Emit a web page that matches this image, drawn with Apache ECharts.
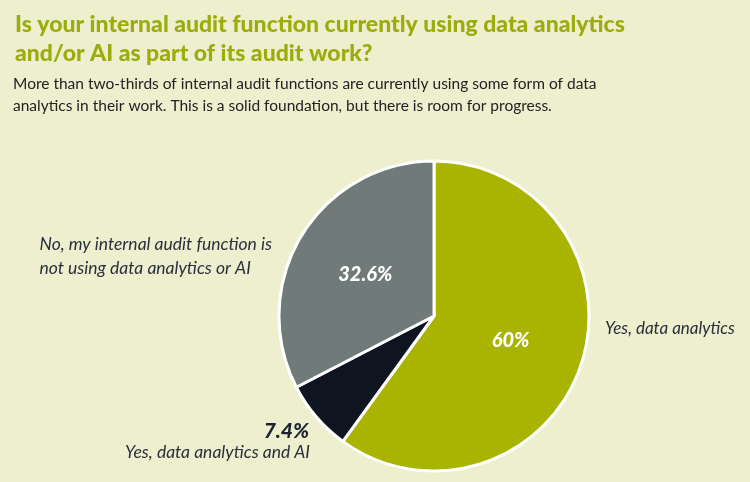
<!DOCTYPE html>
<html>
<head>
<meta charset="utf-8">
<script src="https://cdn.jsdelivr.net/npm/echarts@6/dist/echarts.min.js"></script>
<style>
    html, body { margin: 0; padding: 0; background: #edefcf; }
    #chart { width: 750px; height: 482px; }
</style>
</head>
<body>
<div id="chart"></div>
<script>
    /*----------  data  ----------*/
    var categories = ['Yes, data analytics', 'Yes, data analytics and AI', 'No, my internal audit function is\nnot using data analytics or AI'];
    var values = [60, 7.4, 32.6];
    var colors = ['#a9b400', '#0e1520', '#6f7a79'];

    var FONT = 'Lato';

    var pieData = values.map(function (v, i) {
        var item = { name: categories[i], value: v, itemStyle: { color: colors[i] } };
        if (i === 1) {
            // small slice: value printed outside, dark, nudged down with an empty first line
            item.label = {
                position: 'outside',
                formatter: '\n{c}%',
                color: '#1d2330',
                fontSize: 21,
                lineHeight: 24,
                fontWeight: 900
            };
            item.labelLine = { show: false, length: 3, length2: 0 };
        }
        return item;
    });

    var chart = echarts.init(document.getElementById('chart'));

    chart.setOption({
        backgroundColor: '#edefcf',
        animation: false,
        title: [{
            text: 'Is your internal audit function currently using data analytics\nand/or AI as part of its audit work?',
            left: 10, top: 5,
            textStyle: { fontFamily: FONT, fontSize: 23, fontWeight: 900, color: '#9bad0c', lineHeight: 29 }
        }, {
            text: 'More than two-thirds of internal audit functions are currently using some form of data\nanalytics in their work. This is a solid foundation, but there is room for progress.',
            left: 8, top: 68,
            textStyle: { fontFamily: FONT, fontSize: 15.5, fontWeight: 'normal', color: '#222222', lineHeight: 22 }
        }],
        series: [{
            type: 'pie',
            center: [434, 316],
            radius: [0, 155],
            startAngle: 90,
            clockwise: true,
            avoidLabelOverlap: false,
            itemStyle: { borderColor: '#ffffff', borderWidth: 3 },
            label: {
                show: true,
                position: 'inside',
                formatter: function (p) { return p.value + '%'; },
                fontFamily: FONT,
                fontStyle: 'italic',
                fontWeight: 900,
                fontSize: 20,
                color: '#ffffff'
            },
            emphasis: { disabled: true },
            data: pieData
        }],
        graphic: [{
            type: 'text', left: 605, top: 320,
            style: { text: categories[0], font: 'italic 17px ' + FONT, fill: '#2a2f3a' }
        }, {
            type: 'text', right: 440, top: 443,
            style: { text: categories[1], font: 'italic 17.5px ' + FONT, fill: '#2a2f3a', align: 'right' }
        }, {
            type: 'text', right: 478, top: 232,
            style: { text: categories[2], font: 'italic 17.5px ' + FONT, fill: '#2a2f3a', align: 'right', lineHeight: 24 }
        }]
    });
</script>
</body>
</html>
